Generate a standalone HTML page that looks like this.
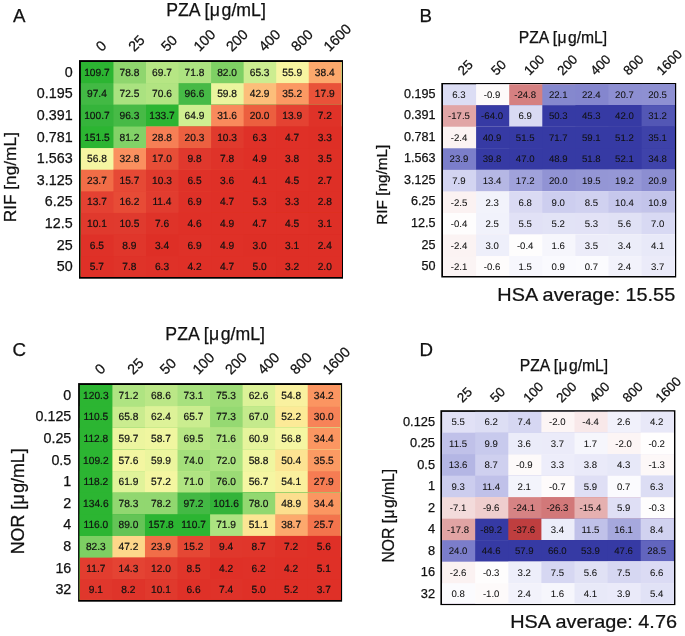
<!DOCTYPE html>
<html lang="en"><head><meta charset="utf-8"><title>Figure</title>
<style>html,body{margin:0;padding:0;background:#fff}body{width:685px;height:636px;overflow:hidden}svg{display:block}svg{stroke-width:.25px}svg text{stroke:#111}</style>
</head><body>
<svg width="685" height="636" viewBox="0 0 685 636" font-family='"Liberation Sans", sans-serif' fill="#111">
<rect width="685" height="636" fill="#fff"/>
<g>
<g>
<rect x="79" y="60.1" width="264" height="218.6" fill="#000"/>
<rect x="80.9" y="62" width="260.4" height="214.7" fill="#2cb532"/>
<rect x="113.45" y="62" width="227.85" height="214.7" fill="#8fd66e"/>
<rect x="146" y="62" width="195.3" height="214.7" fill="#b6e684"/>
<rect x="178.55" y="62" width="162.75" height="214.7" fill="#ade381"/>
<rect x="211.1" y="62" width="130.2" height="214.7" fill="#7ed064"/>
<rect x="243.65" y="62" width="97.65" height="214.7" fill="#cced90"/>
<rect x="276.2" y="62" width="65.1" height="214.7" fill="#f7f4a1"/>
<rect x="308.75" y="62" width="32.55" height="214.7" fill="#fca86c"/>
<rect x="80.9" y="83.14" width="260.4" height="193.56" fill="#42b944"/>
<rect x="113.45" y="83.14" width="227.85" height="193.56" fill="#aae280"/>
<rect x="146" y="83.14" width="195.3" height="193.56" fill="#b2e482"/>
<rect x="178.55" y="83.14" width="162.75" height="193.56" fill="#46ba46"/>
<rect x="211.1" y="83.14" width="130.2" height="193.56" fill="#ebf59e"/>
<rect x="243.65" y="83.14" width="97.65" height="193.56" fill="#fcbe7a"/>
<rect x="276.2" y="83.14" width="65.1" height="193.56" fill="#fb9963"/>
<rect x="308.75" y="83.14" width="32.55" height="193.56" fill="#e95239"/>
<rect x="80.9" y="104.78" width="260.4" height="171.92" fill="#35b43b"/>
<rect x="113.45" y="104.78" width="227.85" height="171.92" fill="#47ba46"/>
<rect x="146" y="104.78" width="195.3" height="171.92" fill="#2cb532"/>
<rect x="178.55" y="104.78" width="162.75" height="171.92" fill="#cfee91"/>
<rect x="211.1" y="104.78" width="130.2" height="171.92" fill="#f98a5c"/>
<rect x="243.65" y="104.78" width="97.65" height="171.92" fill="#ec5f3f"/>
<rect x="276.2" y="104.78" width="65.1" height="171.92" fill="#e44232"/>
<rect x="308.75" y="104.78" width="32.55" height="171.92" fill="#df3228"/>
<rect x="80.9" y="126.42" width="260.4" height="150.28" fill="#2cb532"/>
<rect x="113.45" y="126.42" width="227.85" height="150.28" fill="#82d267"/>
<rect x="146" y="126.42" width="195.3" height="150.28" fill="#f67f55"/>
<rect x="178.55" y="126.42" width="162.75" height="150.28" fill="#ec6040"/>
<rect x="211.1" y="126.42" width="130.2" height="150.28" fill="#e03a2d"/>
<rect x="243.65" y="126.42" width="97.65" height="150.28" fill="#df3128"/>
<rect x="276.2" y="126.42" width="65.1" height="150.28" fill="#df3027"/>
<rect x="308.75" y="126.42" width="32.55" height="150.28" fill="#de2f26"/>
<rect x="80.9" y="148.06" width="260.4" height="128.64" fill="#f5f6a2"/>
<rect x="113.45" y="148.06" width="227.85" height="128.64" fill="#fa905f"/>
<rect x="146" y="148.06" width="195.3" height="128.64" fill="#e74e37"/>
<rect x="178.55" y="148.06" width="162.75" height="128.64" fill="#e0382d"/>
<rect x="211.1" y="148.06" width="130.2" height="128.64" fill="#df3329"/>
<rect x="243.65" y="148.06" width="97.65" height="128.64" fill="#df3027"/>
<rect x="276.2" y="148.06" width="65.1" height="128.64" fill="#df3027"/>
<rect x="308.75" y="148.06" width="32.55" height="128.64" fill="#de3026"/>
<rect x="80.9" y="169.7" width="260.4" height="107" fill="#f16d47"/>
<rect x="113.45" y="169.7" width="227.85" height="107" fill="#e64935"/>
<rect x="146" y="169.7" width="195.3" height="107" fill="#e03a2d"/>
<rect x="178.55" y="169.7" width="162.75" height="107" fill="#df3128"/>
<rect x="211.1" y="169.7" width="130.2" height="107" fill="#df3027"/>
<rect x="243.65" y="169.7" width="97.65" height="107" fill="#df3027"/>
<rect x="276.2" y="169.7" width="65.1" height="107" fill="#df3027"/>
<rect x="308.75" y="169.7" width="32.55" height="107" fill="#de2f26"/>
<rect x="80.9" y="191.34" width="260.4" height="85.36" fill="#e44132"/>
<rect x="113.45" y="191.34" width="227.85" height="85.36" fill="#e74b36"/>
<rect x="146" y="191.34" width="195.3" height="85.36" fill="#e13c2f"/>
<rect x="178.55" y="191.34" width="162.75" height="85.36" fill="#df3128"/>
<rect x="211.1" y="191.34" width="130.2" height="85.36" fill="#df3027"/>
<rect x="243.65" y="191.34" width="97.65" height="85.36" fill="#df3027"/>
<rect x="276.2" y="191.34" width="65.1" height="85.36" fill="#de2f26"/>
<rect x="308.75" y="191.34" width="32.55" height="85.36" fill="#de2f26"/>
<rect x="80.9" y="212.98" width="260.4" height="63.72" fill="#e0392d"/>
<rect x="113.45" y="212.98" width="227.85" height="63.72" fill="#e03a2e"/>
<rect x="146" y="212.98" width="195.3" height="63.72" fill="#df3329"/>
<rect x="178.55" y="212.98" width="162.75" height="63.72" fill="#df3027"/>
<rect x="211.1" y="212.98" width="130.2" height="63.72" fill="#df3027"/>
<rect x="243.65" y="212.98" width="97.65" height="63.72" fill="#df3027"/>
<rect x="276.2" y="212.98" width="65.1" height="63.72" fill="#df3027"/>
<rect x="308.75" y="212.98" width="32.55" height="63.72" fill="#de2f26"/>
<rect x="80.9" y="234.62" width="260.4" height="42.08" fill="#df3128"/>
<rect x="113.45" y="234.62" width="227.85" height="42.08" fill="#e0362b"/>
<rect x="146" y="234.62" width="195.3" height="42.08" fill="#de2f26"/>
<rect x="178.55" y="234.62" width="162.75" height="42.08" fill="#df3128"/>
<rect x="211.1" y="234.62" width="130.2" height="42.08" fill="#df3027"/>
<rect x="243.65" y="234.62" width="97.65" height="42.08" fill="#de2f26"/>
<rect x="276.2" y="234.62" width="65.1" height="42.08" fill="#de2f26"/>
<rect x="308.75" y="234.62" width="32.55" height="42.08" fill="#de2f26"/>
<rect x="80.9" y="256.26" width="260.4" height="20.44" fill="#df3027"/>
<rect x="113.45" y="256.26" width="227.85" height="20.44" fill="#df3329"/>
<rect x="146" y="256.26" width="195.3" height="20.44" fill="#df3128"/>
<rect x="178.55" y="256.26" width="162.75" height="20.44" fill="#df3027"/>
<rect x="211.1" y="256.26" width="130.2" height="20.44" fill="#df3027"/>
<rect x="243.65" y="256.26" width="97.65" height="20.44" fill="#df3027"/>
<rect x="276.2" y="256.26" width="65.1" height="20.44" fill="#de2f26"/>
<rect x="308.75" y="256.26" width="32.55" height="20.44" fill="#de2f26"/>
</g>
<g font-size="10.4" text-anchor="middle" style="stroke-width:0.2px;text-rendering:geometricPrecision">
<text transform="translate(96.88 75.64) scale(0.98 1)">109.7</text>
<text transform="translate(129.42 75.64) scale(0.98 1)">78.8</text>
<text transform="translate(161.97 75.64) scale(0.98 1)">69.7</text>
<text transform="translate(194.52 75.64) scale(0.98 1)">71.8</text>
<text transform="translate(227.07 75.64) scale(0.98 1)">82.0</text>
<text transform="translate(259.62 75.64) scale(0.98 1)">65.3</text>
<text transform="translate(292.18 75.64) scale(0.98 1)">55.9</text>
<text transform="translate(324.72 75.64) scale(0.98 1)">38.4</text>
<text transform="translate(96.88 97.28) scale(0.98 1)">97.4</text>
<text transform="translate(129.42 97.28) scale(0.98 1)">72.5</text>
<text transform="translate(161.97 97.28) scale(0.98 1)">70.6</text>
<text transform="translate(194.52 97.28) scale(0.98 1)">96.6</text>
<text transform="translate(227.07 97.28) scale(0.98 1)">59.8</text>
<text transform="translate(259.62 97.28) scale(0.98 1)">42.9</text>
<text transform="translate(292.18 97.28) scale(0.98 1)">35.2</text>
<text transform="translate(324.72 97.28) scale(0.98 1)">17.9</text>
<text transform="translate(96.88 118.92) scale(0.98 1)">100.7</text>
<text transform="translate(129.42 118.92) scale(0.98 1)">96.3</text>
<text transform="translate(161.97 118.92) scale(0.98 1)">133.7</text>
<text transform="translate(194.52 118.92) scale(0.98 1)">64.9</text>
<text transform="translate(227.07 118.92) scale(0.98 1)">31.6</text>
<text transform="translate(259.62 118.92) scale(0.98 1)">20.0</text>
<text transform="translate(292.18 118.92) scale(0.98 1)">13.9</text>
<text transform="translate(324.72 118.92) scale(0.98 1)">7.2</text>
<text transform="translate(96.88 140.56) scale(0.98 1)">151.5</text>
<text transform="translate(129.42 140.56) scale(0.98 1)">81.2</text>
<text transform="translate(161.97 140.56) scale(0.98 1)">28.8</text>
<text transform="translate(194.52 140.56) scale(0.98 1)">20.3</text>
<text transform="translate(227.07 140.56) scale(0.98 1)">10.3</text>
<text transform="translate(259.62 140.56) scale(0.98 1)">6.3</text>
<text transform="translate(292.18 140.56) scale(0.98 1)">4.7</text>
<text transform="translate(324.72 140.56) scale(0.98 1)">3.3</text>
<text transform="translate(96.88 162.2) scale(0.98 1)">56.8</text>
<text transform="translate(129.42 162.2) scale(0.98 1)">32.8</text>
<text transform="translate(161.97 162.2) scale(0.98 1)">17.0</text>
<text transform="translate(194.52 162.2) scale(0.98 1)">9.8</text>
<text transform="translate(227.07 162.2) scale(0.98 1)">7.8</text>
<text transform="translate(259.62 162.2) scale(0.98 1)">4.9</text>
<text transform="translate(292.18 162.2) scale(0.98 1)">3.8</text>
<text transform="translate(324.72 162.2) scale(0.98 1)">3.5</text>
<text transform="translate(96.88 183.84) scale(0.98 1)">23.7</text>
<text transform="translate(129.42 183.84) scale(0.98 1)">15.7</text>
<text transform="translate(161.97 183.84) scale(0.98 1)">10.3</text>
<text transform="translate(194.52 183.84) scale(0.98 1)">6.5</text>
<text transform="translate(227.07 183.84) scale(0.98 1)">3.6</text>
<text transform="translate(259.62 183.84) scale(0.98 1)">4.1</text>
<text transform="translate(292.18 183.84) scale(0.98 1)">4.5</text>
<text transform="translate(324.72 183.84) scale(0.98 1)">2.7</text>
<text transform="translate(96.88 205.48) scale(0.98 1)">13.7</text>
<text transform="translate(129.42 205.48) scale(0.98 1)">16.2</text>
<text transform="translate(161.97 205.48) scale(0.98 1)">11.4</text>
<text transform="translate(194.52 205.48) scale(0.98 1)">6.9</text>
<text transform="translate(227.07 205.48) scale(0.98 1)">4.7</text>
<text transform="translate(259.62 205.48) scale(0.98 1)">5.3</text>
<text transform="translate(292.18 205.48) scale(0.98 1)">3.3</text>
<text transform="translate(324.72 205.48) scale(0.98 1)">2.8</text>
<text transform="translate(96.88 227.12) scale(0.98 1)">10.1</text>
<text transform="translate(129.42 227.12) scale(0.98 1)">10.5</text>
<text transform="translate(161.97 227.12) scale(0.98 1)">7.6</text>
<text transform="translate(194.52 227.12) scale(0.98 1)">4.6</text>
<text transform="translate(227.07 227.12) scale(0.98 1)">4.9</text>
<text transform="translate(259.62 227.12) scale(0.98 1)">4.7</text>
<text transform="translate(292.18 227.12) scale(0.98 1)">4.5</text>
<text transform="translate(324.72 227.12) scale(0.98 1)">3.1</text>
<text transform="translate(96.88 248.76) scale(0.98 1)">6.5</text>
<text transform="translate(129.42 248.76) scale(0.98 1)">8.9</text>
<text transform="translate(161.97 248.76) scale(0.98 1)">3.4</text>
<text transform="translate(194.52 248.76) scale(0.98 1)">6.9</text>
<text transform="translate(227.07 248.76) scale(0.98 1)">4.9</text>
<text transform="translate(259.62 248.76) scale(0.98 1)">3.0</text>
<text transform="translate(292.18 248.76) scale(0.98 1)">3.1</text>
<text transform="translate(324.72 248.76) scale(0.98 1)">2.4</text>
<text transform="translate(96.88 270.4) scale(0.98 1)">5.7</text>
<text transform="translate(129.42 270.4) scale(0.98 1)">7.8</text>
<text transform="translate(161.97 270.4) scale(0.98 1)">6.3</text>
<text transform="translate(194.52 270.4) scale(0.98 1)">4.2</text>
<text transform="translate(227.07 270.4) scale(0.98 1)">4.7</text>
<text transform="translate(259.62 270.4) scale(0.98 1)">5.0</text>
<text transform="translate(292.18 270.4) scale(0.98 1)">3.2</text>
<text transform="translate(324.72 270.4) scale(0.98 1)">2.0</text>
</g>
<g font-size="14.3" text-anchor="end">
<text x="72.6" y="76.64">0</text>
<text x="72.6" y="98.28">0.195</text>
<text x="72.6" y="119.92">0.391</text>
<text x="72.6" y="141.56">0.781</text>
<text x="72.6" y="163.2">1.563</text>
<text x="72.6" y="184.84">3.125</text>
<text x="72.6" y="206.48">6.25</text>
<text x="72.6" y="228.12">12.5</text>
<text x="72.6" y="249.76">25</text>
<text x="72.6" y="271.4">50</text>
</g>
<g font-size="14.3">
<text transform="translate(101.78 52.3) rotate(-45)" text-anchor="start" x="0" y="0">0</text>
<text transform="translate(134.32 52.3) rotate(-45)" text-anchor="start" x="0" y="0">25</text>
<text transform="translate(166.88 52.3) rotate(-45)" text-anchor="start" x="0" y="0">50</text>
<text transform="translate(199.42 52.3) rotate(-45)" text-anchor="start" x="0" y="0">100</text>
<text transform="translate(231.97 52.3) rotate(-45)" text-anchor="start" x="0" y="0">200</text>
<text transform="translate(264.52 52.3) rotate(-45)" text-anchor="start" x="0" y="0">400</text>
<text transform="translate(297.08 52.3) rotate(-45)" text-anchor="start" x="0" y="0">800</text>
<text transform="translate(329.62 52.3) rotate(-45)" text-anchor="start" x="0" y="0">1600</text>
</g>
<text x="216" y="16.2" font-size="17.7" text-anchor="middle">PZA [<tspan dx="0.35">μ</tspan><tspan dx="1.59">g</tspan>/mL]</text>
<text transform="translate(16.2 177.2) rotate(-90)" font-size="17.3" text-anchor="middle">RIF [ng/mL]</text>
<text x="12.9" y="21.9" font-size="18.7">A</text>
</g>
<g>
<g>
<rect x="441.3" y="83" width="234.9" height="194.5" fill="#000"/>
<rect x="443" y="84.3" width="231.7" height="191.5" fill="#dcddf4"/>
<rect x="476.1" y="84.3" width="198.6" height="191.5" fill="#fdfafa"/>
<rect x="509.2" y="84.3" width="165.5" height="191.5" fill="#d58081"/>
<rect x="542.3" y="84.3" width="132.4" height="191.5" fill="#8588ce"/>
<rect x="575.4" y="84.3" width="99.3" height="191.5" fill="#8486ce"/>
<rect x="608.5" y="84.3" width="66.2" height="191.5" fill="#8d8fd2"/>
<rect x="641.6" y="84.3" width="33.1" height="191.5" fill="#8e90d2"/>
<rect x="443" y="105.16" width="231.7" height="170.64" fill="#e1a5a6"/>
<rect x="476.1" y="105.16" width="198.6" height="170.64" fill="#363aa4"/>
<rect x="509.2" y="105.16" width="165.5" height="170.64" fill="#d9daf3"/>
<rect x="542.3" y="105.16" width="132.4" height="170.64" fill="#363aa4"/>
<rect x="575.4" y="105.16" width="99.3" height="170.64" fill="#363aa4"/>
<rect x="608.5" y="105.16" width="66.2" height="170.64" fill="#363aa4"/>
<rect x="641.6" y="105.16" width="33.1" height="170.64" fill="#5357b5"/>
<rect x="443" y="126.72" width="231.7" height="149.08" fill="#fbf3f3"/>
<rect x="476.1" y="126.72" width="198.6" height="149.08" fill="#363aa4"/>
<rect x="509.2" y="126.72" width="165.5" height="149.08" fill="#363aa4"/>
<rect x="542.3" y="126.72" width="132.4" height="149.08" fill="#363aa4"/>
<rect x="575.4" y="126.72" width="99.3" height="149.08" fill="#363aa4"/>
<rect x="608.5" y="126.72" width="66.2" height="149.08" fill="#363aa4"/>
<rect x="641.6" y="126.72" width="33.1" height="149.08" fill="#3e42a9"/>
<rect x="443" y="148.28" width="231.7" height="127.52" fill="#7b7eca"/>
<rect x="476.1" y="148.28" width="198.6" height="127.52" fill="#363aa4"/>
<rect x="509.2" y="148.28" width="165.5" height="127.52" fill="#363aa4"/>
<rect x="542.3" y="148.28" width="132.4" height="127.52" fill="#363aa4"/>
<rect x="575.4" y="148.28" width="99.3" height="127.52" fill="#363aa4"/>
<rect x="608.5" y="148.28" width="66.2" height="127.52" fill="#363aa4"/>
<rect x="641.6" y="148.28" width="33.1" height="127.52" fill="#3f43aa"/>
<rect x="443" y="169.84" width="231.7" height="105.96" fill="#d3d4f1"/>
<rect x="476.1" y="169.84" width="198.6" height="105.96" fill="#b5b7e4"/>
<rect x="509.2" y="169.84" width="165.5" height="105.96" fill="#a0a2db"/>
<rect x="542.3" y="169.84" width="132.4" height="105.96" fill="#9193d4"/>
<rect x="575.4" y="169.84" width="99.3" height="105.96" fill="#9496d5"/>
<rect x="608.5" y="169.84" width="66.2" height="105.96" fill="#9597d6"/>
<rect x="641.6" y="169.84" width="33.1" height="105.96" fill="#8c8ed1"/>
<rect x="443" y="191.4" width="231.7" height="84.4" fill="#fbf2f2"/>
<rect x="476.1" y="191.4" width="198.6" height="84.4" fill="#f2f3fb"/>
<rect x="509.2" y="191.4" width="165.5" height="84.4" fill="#dadaf3"/>
<rect x="542.3" y="191.4" width="132.4" height="84.4" fill="#cdceef"/>
<rect x="575.4" y="191.4" width="99.3" height="84.4" fill="#d0d1f0"/>
<rect x="608.5" y="191.4" width="66.2" height="84.4" fill="#c6c7ec"/>
<rect x="641.6" y="191.4" width="33.1" height="84.4" fill="#c3c4ea"/>
<rect x="443" y="212.96" width="231.7" height="62.84" fill="#fefdfd"/>
<rect x="476.1" y="212.96" width="198.6" height="62.84" fill="#f1f2fb"/>
<rect x="509.2" y="212.96" width="165.5" height="62.84" fill="#e1e1f6"/>
<rect x="542.3" y="212.96" width="132.4" height="62.84" fill="#e2e3f6"/>
<rect x="575.4" y="212.96" width="99.3" height="62.84" fill="#e2e2f6"/>
<rect x="608.5" y="212.96" width="66.2" height="62.84" fill="#e0e1f5"/>
<rect x="641.6" y="212.96" width="33.1" height="62.84" fill="#d8d9f3"/>
<rect x="443" y="234.52" width="231.7" height="41.28" fill="#fbf3f3"/>
<rect x="476.1" y="234.52" width="198.6" height="41.28" fill="#eeeffa"/>
<rect x="509.2" y="234.52" width="165.5" height="41.28" fill="#fefdfd"/>
<rect x="542.3" y="234.52" width="132.4" height="41.28" fill="#f6f6fc"/>
<rect x="575.4" y="234.52" width="99.3" height="41.28" fill="#ececf9"/>
<rect x="608.5" y="234.52" width="66.2" height="41.28" fill="#ecedf9"/>
<rect x="641.6" y="234.52" width="33.1" height="41.28" fill="#e8e9f8"/>
<rect x="443" y="256.08" width="231.7" height="19.72" fill="#fbf4f4"/>
<rect x="476.1" y="256.08" width="198.6" height="19.72" fill="#fefcfc"/>
<rect x="509.2" y="256.08" width="165.5" height="19.72" fill="#f7f7fd"/>
<rect x="542.3" y="256.08" width="132.4" height="19.72" fill="#fafafe"/>
<rect x="575.4" y="256.08" width="99.3" height="19.72" fill="#fbfbfe"/>
<rect x="608.5" y="256.08" width="66.2" height="19.72" fill="#f2f2fb"/>
<rect x="641.6" y="256.08" width="33.1" height="19.72" fill="#ebebf9"/>
</g>
<g font-size="9.6" text-anchor="middle" style="stroke-width:0.05px;text-rendering:geometricPrecision">
<text transform="translate(458.95 97.72) scale(1.0 1)">6.3</text>
<text transform="translate(492.05 97.72) scale(1.0 1)">-0.9</text>
<text transform="translate(525.15 97.72) scale(1.0 1)">-24.8</text>
<text transform="translate(558.25 97.72) scale(1.0 1)">22.1</text>
<text transform="translate(591.35 97.72) scale(1.0 1)">22.4</text>
<text transform="translate(624.45 97.72) scale(1.0 1)">20.7</text>
<text transform="translate(657.55 97.72) scale(1.0 1)">20.5</text>
<text transform="translate(458.95 119.28) scale(1.0 1)">-17.5</text>
<text transform="translate(492.05 119.28) scale(1.0 1)">-64.0</text>
<text transform="translate(525.15 119.28) scale(1.0 1)">6.9</text>
<text transform="translate(558.25 119.28) scale(1.0 1)">50.3</text>
<text transform="translate(591.35 119.28) scale(1.0 1)">45.3</text>
<text transform="translate(624.45 119.28) scale(1.0 1)">42.0</text>
<text transform="translate(657.55 119.28) scale(1.0 1)">31.2</text>
<text transform="translate(458.95 140.84) scale(1.0 1)">-2.4</text>
<text transform="translate(492.05 140.84) scale(1.0 1)">40.9</text>
<text transform="translate(525.15 140.84) scale(1.0 1)">51.5</text>
<text transform="translate(558.25 140.84) scale(1.0 1)">71.7</text>
<text transform="translate(591.35 140.84) scale(1.0 1)">59.1</text>
<text transform="translate(624.45 140.84) scale(1.0 1)">51.2</text>
<text transform="translate(657.55 140.84) scale(1.0 1)">35.1</text>
<text transform="translate(458.95 162.4) scale(1.0 1)">23.9</text>
<text transform="translate(492.05 162.4) scale(1.0 1)">39.8</text>
<text transform="translate(525.15 162.4) scale(1.0 1)">47.0</text>
<text transform="translate(558.25 162.4) scale(1.0 1)">48.9</text>
<text transform="translate(591.35 162.4) scale(1.0 1)">51.8</text>
<text transform="translate(624.45 162.4) scale(1.0 1)">52.1</text>
<text transform="translate(657.55 162.4) scale(1.0 1)">34.8</text>
<text transform="translate(458.95 183.96) scale(1.0 1)">7.9</text>
<text transform="translate(492.05 183.96) scale(1.0 1)">13.4</text>
<text transform="translate(525.15 183.96) scale(1.0 1)">17.2</text>
<text transform="translate(558.25 183.96) scale(1.0 1)">20.0</text>
<text transform="translate(591.35 183.96) scale(1.0 1)">19.5</text>
<text transform="translate(624.45 183.96) scale(1.0 1)">19.2</text>
<text transform="translate(657.55 183.96) scale(1.0 1)">20.9</text>
<text transform="translate(458.95 205.52) scale(1.0 1)">-2.5</text>
<text transform="translate(492.05 205.52) scale(1.0 1)">2.3</text>
<text transform="translate(525.15 205.52) scale(1.0 1)">6.8</text>
<text transform="translate(558.25 205.52) scale(1.0 1)">9.0</text>
<text transform="translate(591.35 205.52) scale(1.0 1)">8.5</text>
<text transform="translate(624.45 205.52) scale(1.0 1)">10.4</text>
<text transform="translate(657.55 205.52) scale(1.0 1)">10.9</text>
<text transform="translate(458.95 227.08) scale(1.0 1)">-0.4</text>
<text transform="translate(492.05 227.08) scale(1.0 1)">2.5</text>
<text transform="translate(525.15 227.08) scale(1.0 1)">5.5</text>
<text transform="translate(558.25 227.08) scale(1.0 1)">5.2</text>
<text transform="translate(591.35 227.08) scale(1.0 1)">5.3</text>
<text transform="translate(624.45 227.08) scale(1.0 1)">5.6</text>
<text transform="translate(657.55 227.08) scale(1.0 1)">7.0</text>
<text transform="translate(458.95 248.64) scale(1.0 1)">-2.4</text>
<text transform="translate(492.05 248.64) scale(1.0 1)">3.0</text>
<text transform="translate(525.15 248.64) scale(1.0 1)">-0.4</text>
<text transform="translate(558.25 248.64) scale(1.0 1)">1.6</text>
<text transform="translate(591.35 248.64) scale(1.0 1)">3.5</text>
<text transform="translate(624.45 248.64) scale(1.0 1)">3.4</text>
<text transform="translate(657.55 248.64) scale(1.0 1)">4.1</text>
<text transform="translate(458.95 270.2) scale(1.0 1)">-2.1</text>
<text transform="translate(492.05 270.2) scale(1.0 1)">-0.6</text>
<text transform="translate(525.15 270.2) scale(1.0 1)">1.5</text>
<text transform="translate(558.25 270.2) scale(1.0 1)">0.9</text>
<text transform="translate(591.35 270.2) scale(1.0 1)">0.7</text>
<text transform="translate(624.45 270.2) scale(1.0 1)">2.4</text>
<text transform="translate(657.55 270.2) scale(1.0 1)">3.7</text>
</g>
<g font-size="12.6" text-anchor="end">
<text x="435.4" y="97.59">0.195</text>
<text x="435.4" y="119.15">0.391</text>
<text x="435.4" y="140.71">0.781</text>
<text x="435.4" y="162.27">1.563</text>
<text x="435.4" y="183.83">3.125</text>
<text x="435.4" y="205.39">6.25</text>
<text x="435.4" y="226.95">12.5</text>
<text x="435.4" y="248.51">25</text>
<text x="435.4" y="270.07">50</text>
</g>
<g font-size="13.3">
<text transform="translate(463.35 76) rotate(-45)" text-anchor="start" x="0" y="0">25</text>
<text transform="translate(496.45 76) rotate(-45)" text-anchor="start" x="0" y="0">50</text>
<text transform="translate(529.55 76) rotate(-45)" text-anchor="start" x="0" y="0">100</text>
<text transform="translate(562.65 76) rotate(-45)" text-anchor="start" x="0" y="0">200</text>
<text transform="translate(595.75 76) rotate(-45)" text-anchor="start" x="0" y="0">400</text>
<text transform="translate(628.85 76) rotate(-45)" text-anchor="start" x="0" y="0">800</text>
<text transform="translate(661.95 76) rotate(-45)" text-anchor="start" x="0" y="0">1600</text>
</g>
<text x="563" y="42.5" font-size="15.7" text-anchor="middle">PZA [<tspan dx="0.31">μ</tspan><tspan dx="1.41">g</tspan>/mL]</text>
<text transform="translate(386.7 184.75) rotate(-90)" font-size="15.3" text-anchor="middle">RIF [ng/mL]</text>
<text x="419.5" y="22" font-size="18.7">B</text>
<text transform="translate(675.2 301.3) scale(1.055 1)" font-size="18.85" text-anchor="end">HSA average: 15.55</text>
</g>
<g>
<g>
<rect x="78.1" y="383.1" width="264" height="218.6" fill="#000"/>
<rect x="79.85" y="385" width="260.45" height="214.8" fill="#2cb532"/>
<rect x="112.41" y="385" width="227.89" height="214.8" fill="#afe482"/>
<rect x="144.96" y="385" width="195.34" height="214.8" fill="#bbe787"/>
<rect x="177.52" y="385" width="162.78" height="214.8" fill="#a7e17e"/>
<rect x="210.08" y="385" width="130.22" height="214.8" fill="#9edc77"/>
<rect x="242.63" y="385" width="97.67" height="214.8" fill="#dcf298"/>
<rect x="275.19" y="385" width="65.11" height="214.8" fill="#f9f19f"/>
<rect x="307.74" y="385" width="32.56" height="214.8" fill="#fb9561"/>
<rect x="79.85" y="406.14" width="260.45" height="193.66" fill="#2cb532"/>
<rect x="112.41" y="406.14" width="227.89" height="193.66" fill="#caec8f"/>
<rect x="144.96" y="406.14" width="195.34" height="193.66" fill="#ddf298"/>
<rect x="177.52" y="406.14" width="162.78" height="193.66" fill="#caed8f"/>
<rect x="210.08" y="406.14" width="130.22" height="193.66" fill="#95d972"/>
<rect x="242.63" y="406.14" width="97.67" height="193.66" fill="#c4ea8c"/>
<rect x="275.19" y="406.14" width="65.11" height="193.66" fill="#fcea97"/>
<rect x="307.74" y="406.14" width="32.56" height="193.66" fill="#f78358"/>
<rect x="79.85" y="427.78" width="260.45" height="172.02" fill="#2cb532"/>
<rect x="112.41" y="427.78" width="227.89" height="172.02" fill="#ecf59f"/>
<rect x="144.96" y="427.78" width="195.34" height="172.02" fill="#f0f6a0"/>
<rect x="177.52" y="427.78" width="162.78" height="172.02" fill="#b7e684"/>
<rect x="210.08" y="427.78" width="130.22" height="172.02" fill="#aee381"/>
<rect x="242.63" y="427.78" width="97.67" height="172.02" fill="#e6f49c"/>
<rect x="275.19" y="427.78" width="65.11" height="172.02" fill="#f5f6a2"/>
<rect x="307.74" y="427.78" width="32.56" height="172.02" fill="#fb9661"/>
<rect x="79.85" y="449.42" width="260.45" height="150.38" fill="#2cb532"/>
<rect x="112.41" y="449.42" width="227.89" height="150.38" fill="#f3f6a1"/>
<rect x="144.96" y="449.42" width="195.34" height="150.38" fill="#ebf59e"/>
<rect x="177.52" y="449.42" width="162.78" height="150.38" fill="#a4df7b"/>
<rect x="210.08" y="449.42" width="130.22" height="150.38" fill="#ace381"/>
<rect x="242.63" y="449.42" width="97.67" height="150.38" fill="#f0f6a0"/>
<rect x="275.19" y="449.42" width="65.11" height="150.38" fill="#fce392"/>
<rect x="307.74" y="449.42" width="32.56" height="150.38" fill="#fb9a63"/>
<rect x="79.85" y="471.06" width="260.45" height="128.74" fill="#2cb532"/>
<rect x="112.41" y="471.06" width="227.89" height="128.74" fill="#e0f39a"/>
<rect x="144.96" y="471.06" width="195.34" height="128.74" fill="#f4f6a1"/>
<rect x="177.52" y="471.06" width="162.78" height="128.74" fill="#b0e482"/>
<rect x="210.08" y="471.06" width="130.22" height="128.74" fill="#9bdb75"/>
<rect x="242.63" y="471.06" width="97.67" height="128.74" fill="#f5f6a2"/>
<rect x="275.19" y="471.06" width="65.11" height="128.74" fill="#faef9d"/>
<rect x="307.74" y="471.06" width="32.56" height="128.74" fill="#f67c53"/>
<rect x="79.85" y="492.7" width="260.45" height="107.1" fill="#2cb532"/>
<rect x="112.41" y="492.7" width="227.89" height="107.1" fill="#91d770"/>
<rect x="144.96" y="492.7" width="195.34" height="107.1" fill="#91d770"/>
<rect x="177.52" y="492.7" width="162.78" height="107.1" fill="#43b944"/>
<rect x="210.08" y="492.7" width="130.22" height="107.1" fill="#33b439"/>
<rect x="242.63" y="492.7" width="97.67" height="107.1" fill="#92d870"/>
<rect x="275.19" y="492.7" width="65.11" height="107.1" fill="#fcde8e"/>
<rect x="307.74" y="492.7" width="32.56" height="107.1" fill="#fb9661"/>
<rect x="79.85" y="514.34" width="260.45" height="85.46" fill="#2cb532"/>
<rect x="112.41" y="514.34" width="227.89" height="85.46" fill="#64c456"/>
<rect x="144.96" y="514.34" width="195.34" height="85.46" fill="#2cb532"/>
<rect x="177.52" y="514.34" width="162.78" height="85.46" fill="#2cb532"/>
<rect x="210.08" y="514.34" width="130.22" height="85.46" fill="#ace381"/>
<rect x="242.63" y="514.34" width="97.67" height="85.46" fill="#fce694"/>
<rect x="275.19" y="514.34" width="65.11" height="85.46" fill="#fca96d"/>
<rect x="307.74" y="514.34" width="32.56" height="85.46" fill="#f3744d"/>
<rect x="79.85" y="535.98" width="260.45" height="63.82" fill="#7dcf63"/>
<rect x="112.41" y="535.98" width="227.89" height="63.82" fill="#fdd78a"/>
<rect x="144.96" y="535.98" width="195.34" height="63.82" fill="#f16e48"/>
<rect x="177.52" y="535.98" width="162.78" height="63.82" fill="#e54734"/>
<rect x="210.08" y="535.98" width="130.22" height="63.82" fill="#e0372c"/>
<rect x="242.63" y="535.98" width="97.67" height="63.82" fill="#e0362b"/>
<rect x="275.19" y="535.98" width="65.11" height="63.82" fill="#df3228"/>
<rect x="307.74" y="535.98" width="32.56" height="63.82" fill="#df3027"/>
<rect x="79.85" y="557.62" width="260.45" height="42.18" fill="#e23d2f"/>
<rect x="112.41" y="557.62" width="227.89" height="42.18" fill="#e44333"/>
<rect x="144.96" y="557.62" width="195.34" height="42.18" fill="#e23e30"/>
<rect x="177.52" y="557.62" width="162.78" height="42.18" fill="#e0352a"/>
<rect x="210.08" y="557.62" width="130.22" height="42.18" fill="#df3027"/>
<rect x="242.63" y="557.62" width="97.67" height="42.18" fill="#df3128"/>
<rect x="275.19" y="557.62" width="65.11" height="42.18" fill="#df3027"/>
<rect x="307.74" y="557.62" width="32.56" height="42.18" fill="#df3027"/>
<rect x="79.85" y="579.26" width="260.45" height="20.54" fill="#e0372c"/>
<rect x="112.41" y="579.26" width="227.89" height="20.54" fill="#df342a"/>
<rect x="144.96" y="579.26" width="195.34" height="20.54" fill="#e0392d"/>
<rect x="177.52" y="579.26" width="162.78" height="20.54" fill="#df3128"/>
<rect x="210.08" y="579.26" width="130.22" height="20.54" fill="#df3229"/>
<rect x="242.63" y="579.26" width="97.67" height="20.54" fill="#df3027"/>
<rect x="275.19" y="579.26" width="65.11" height="20.54" fill="#df3027"/>
<rect x="307.74" y="579.26" width="32.56" height="20.54" fill="#df3027"/>
</g>
<g font-size="10.4" text-anchor="middle" style="stroke-width:0.2px;text-rendering:geometricPrecision">
<text transform="translate(95.83 398.64) scale(0.98 1)">120.3</text>
<text transform="translate(128.38 398.64) scale(0.98 1)">71.2</text>
<text transform="translate(160.94 398.64) scale(0.98 1)">68.6</text>
<text transform="translate(193.5 398.64) scale(0.98 1)">73.1</text>
<text transform="translate(226.05 398.64) scale(0.98 1)">75.3</text>
<text transform="translate(258.61 398.64) scale(0.98 1)">62.6</text>
<text transform="translate(291.17 398.64) scale(0.98 1)">54.8</text>
<text transform="translate(323.72 398.64) scale(0.98 1)">34.2</text>
<text transform="translate(95.83 420.28) scale(0.98 1)">110.5</text>
<text transform="translate(128.38 420.28) scale(0.98 1)">65.8</text>
<text transform="translate(160.94 420.28) scale(0.98 1)">62.4</text>
<text transform="translate(193.5 420.28) scale(0.98 1)">65.7</text>
<text transform="translate(226.05 420.28) scale(0.98 1)">77.3</text>
<text transform="translate(258.61 420.28) scale(0.98 1)">67.0</text>
<text transform="translate(291.17 420.28) scale(0.98 1)">52.2</text>
<text transform="translate(323.72 420.28) scale(0.98 1)">30.0</text>
<text transform="translate(95.83 441.92) scale(0.98 1)">112.8</text>
<text transform="translate(128.38 441.92) scale(0.98 1)">59.7</text>
<text transform="translate(160.94 441.92) scale(0.98 1)">58.7</text>
<text transform="translate(193.5 441.92) scale(0.98 1)">69.5</text>
<text transform="translate(226.05 441.92) scale(0.98 1)">71.6</text>
<text transform="translate(258.61 441.92) scale(0.98 1)">60.9</text>
<text transform="translate(291.17 441.92) scale(0.98 1)">56.8</text>
<text transform="translate(323.72 441.92) scale(0.98 1)">34.4</text>
<text transform="translate(95.83 463.56) scale(0.98 1)">109.2</text>
<text transform="translate(128.38 463.56) scale(0.98 1)">57.6</text>
<text transform="translate(160.94 463.56) scale(0.98 1)">59.9</text>
<text transform="translate(193.5 463.56) scale(0.98 1)">74.0</text>
<text transform="translate(226.05 463.56) scale(0.98 1)">72.0</text>
<text transform="translate(258.61 463.56) scale(0.98 1)">58.8</text>
<text transform="translate(291.17 463.56) scale(0.98 1)">50.4</text>
<text transform="translate(323.72 463.56) scale(0.98 1)">35.5</text>
<text transform="translate(95.83 485.2) scale(0.98 1)">118.2</text>
<text transform="translate(128.38 485.2) scale(0.98 1)">61.9</text>
<text transform="translate(160.94 485.2) scale(0.98 1)">57.2</text>
<text transform="translate(193.5 485.2) scale(0.98 1)">71.0</text>
<text transform="translate(226.05 485.2) scale(0.98 1)">76.0</text>
<text transform="translate(258.61 485.2) scale(0.98 1)">56.7</text>
<text transform="translate(291.17 485.2) scale(0.98 1)">54.1</text>
<text transform="translate(323.72 485.2) scale(0.98 1)">27.9</text>
<text transform="translate(95.83 506.84) scale(0.98 1)">134.6</text>
<text transform="translate(128.38 506.84) scale(0.98 1)">78.3</text>
<text transform="translate(160.94 506.84) scale(0.98 1)">78.2</text>
<text transform="translate(193.5 506.84) scale(0.98 1)">97.2</text>
<text transform="translate(226.05 506.84) scale(0.98 1)">101.6</text>
<text transform="translate(258.61 506.84) scale(0.98 1)">78.0</text>
<text transform="translate(291.17 506.84) scale(0.98 1)">48.9</text>
<text transform="translate(323.72 506.84) scale(0.98 1)">34.4</text>
<text transform="translate(95.83 528.48) scale(0.98 1)">116.0</text>
<text transform="translate(128.38 528.48) scale(0.98 1)">89.0</text>
<text transform="translate(160.94 528.48) scale(0.98 1)">157.8</text>
<text transform="translate(193.5 528.48) scale(0.98 1)">110.7</text>
<text transform="translate(226.05 528.48) scale(0.98 1)">71.9</text>
<text transform="translate(258.61 528.48) scale(0.98 1)">51.1</text>
<text transform="translate(291.17 528.48) scale(0.98 1)">38.7</text>
<text transform="translate(323.72 528.48) scale(0.98 1)">25.7</text>
<text transform="translate(95.83 550.12) scale(0.98 1)">82.3</text>
<text transform="translate(128.38 550.12) scale(0.98 1)">47.2</text>
<text transform="translate(160.94 550.12) scale(0.98 1)">23.9</text>
<text transform="translate(193.5 550.12) scale(0.98 1)">15.2</text>
<text transform="translate(226.05 550.12) scale(0.98 1)">9.4</text>
<text transform="translate(258.61 550.12) scale(0.98 1)">8.7</text>
<text transform="translate(291.17 550.12) scale(0.98 1)">7.2</text>
<text transform="translate(323.72 550.12) scale(0.98 1)">5.6</text>
<text transform="translate(95.83 571.76) scale(0.98 1)">11.7</text>
<text transform="translate(128.38 571.76) scale(0.98 1)">14.3</text>
<text transform="translate(160.94 571.76) scale(0.98 1)">12.0</text>
<text transform="translate(193.5 571.76) scale(0.98 1)">8.5</text>
<text transform="translate(226.05 571.76) scale(0.98 1)">4.2</text>
<text transform="translate(258.61 571.76) scale(0.98 1)">6.2</text>
<text transform="translate(291.17 571.76) scale(0.98 1)">4.2</text>
<text transform="translate(323.72 571.76) scale(0.98 1)">5.1</text>
<text transform="translate(95.83 593.4) scale(0.98 1)">9.1</text>
<text transform="translate(128.38 593.4) scale(0.98 1)">8.2</text>
<text transform="translate(160.94 593.4) scale(0.98 1)">10.1</text>
<text transform="translate(193.5 593.4) scale(0.98 1)">6.6</text>
<text transform="translate(226.05 593.4) scale(0.98 1)">7.4</text>
<text transform="translate(258.61 593.4) scale(0.98 1)">5.0</text>
<text transform="translate(291.17 593.4) scale(0.98 1)">5.2</text>
<text transform="translate(323.72 593.4) scale(0.98 1)">3.7</text>
</g>
<g font-size="14.3" text-anchor="end">
<text x="71.3" y="399.64">0</text>
<text x="71.3" y="421.28">0.125</text>
<text x="71.3" y="442.92">0.25</text>
<text x="71.3" y="464.56">0.5</text>
<text x="71.3" y="486.2">1</text>
<text x="71.3" y="507.84">2</text>
<text x="71.3" y="529.48">4</text>
<text x="71.3" y="551.12">8</text>
<text x="71.3" y="572.76">16</text>
<text x="71.3" y="594.4">32</text>
</g>
<g font-size="14.3">
<text transform="translate(100.73 375.3) rotate(-45)" text-anchor="start" x="0" y="0">0</text>
<text transform="translate(133.28 375.3) rotate(-45)" text-anchor="start" x="0" y="0">25</text>
<text transform="translate(165.84 375.3) rotate(-45)" text-anchor="start" x="0" y="0">50</text>
<text transform="translate(198.4 375.3) rotate(-45)" text-anchor="start" x="0" y="0">100</text>
<text transform="translate(230.95 375.3) rotate(-45)" text-anchor="start" x="0" y="0">200</text>
<text transform="translate(263.51 375.3) rotate(-45)" text-anchor="start" x="0" y="0">400</text>
<text transform="translate(296.07 375.3) rotate(-45)" text-anchor="start" x="0" y="0">800</text>
<text transform="translate(328.62 375.3) rotate(-45)" text-anchor="start" x="0" y="0">1600</text>
</g>
<text x="215.2" y="339.6" font-size="17.7" text-anchor="middle">PZA [<tspan dx="0.35">μ</tspan><tspan dx="1.59">g</tspan>/mL]</text>
<text transform="translate(24.3 501.3) rotate(-90)" font-size="17.8" text-anchor="middle">NOR [<tspan dx="0.3">μ</tspan><tspan dx="1.5">g</tspan>/mL]</text>
<text x="12.6" y="356.2" font-size="18.7">C</text>
</g>
<g>
<g>
<rect x="440.4" y="410.2" width="235" height="194.9" fill="#000"/>
<rect x="442.1" y="411.9" width="231.7" height="191.6" fill="#e1e1f6"/>
<rect x="475.2" y="411.9" width="198.6" height="191.6" fill="#dddef4"/>
<rect x="508.3" y="411.9" width="165.5" height="191.6" fill="#d6d7f2"/>
<rect x="541.4" y="411.9" width="132.4" height="191.6" fill="#fcf5f5"/>
<rect x="574.5" y="411.9" width="99.3" height="191.6" fill="#f8e8e9"/>
<rect x="607.6" y="411.9" width="66.2" height="191.6" fill="#f1f1fb"/>
<rect x="640.7" y="411.9" width="33.1" height="191.6" fill="#e8e8f8"/>
<rect x="442.1" y="432.7" width="231.7" height="170.8" fill="#c0c1e9"/>
<rect x="475.2" y="432.7" width="198.6" height="170.8" fill="#c8caed"/>
<rect x="508.3" y="432.7" width="165.5" height="170.8" fill="#ebecf9"/>
<rect x="541.4" y="432.7" width="132.4" height="170.8" fill="#ebebf9"/>
<rect x="574.5" y="432.7" width="99.3" height="170.8" fill="#f6f6fc"/>
<rect x="607.6" y="432.7" width="66.2" height="170.8" fill="#fcf5f5"/>
<rect x="640.7" y="432.7" width="33.1" height="170.8" fill="#fffefe"/>
<rect x="442.1" y="454.2" width="231.7" height="149.3" fill="#b4b6e4"/>
<rect x="475.2" y="454.2" width="198.6" height="149.3" fill="#cfd0ef"/>
<rect x="508.3" y="454.2" width="165.5" height="149.3" fill="#fdfafa"/>
<rect x="541.4" y="454.2" width="132.4" height="149.3" fill="#ededfa"/>
<rect x="574.5" y="454.2" width="99.3" height="149.3" fill="#eaeaf9"/>
<rect x="607.6" y="454.2" width="66.2" height="149.3" fill="#e7e8f8"/>
<rect x="640.7" y="454.2" width="33.1" height="149.3" fill="#fdf8f8"/>
<rect x="442.1" y="475.7" width="231.7" height="127.8" fill="#cccdee"/>
<rect x="475.2" y="475.7" width="198.6" height="127.8" fill="#c0c1e9"/>
<rect x="508.3" y="475.7" width="165.5" height="127.8" fill="#f3f4fc"/>
<rect x="541.4" y="475.7" width="132.4" height="127.8" fill="#fefbfb"/>
<rect x="574.5" y="475.7" width="99.3" height="127.8" fill="#dfdff5"/>
<rect x="607.6" y="475.7" width="66.2" height="127.8" fill="#fbfbfe"/>
<rect x="640.7" y="475.7" width="33.1" height="127.8" fill="#dcddf4"/>
<rect x="442.1" y="497.2" width="231.7" height="106.3" fill="#f3dbdb"/>
<rect x="475.2" y="497.2" width="198.6" height="106.3" fill="#efcece"/>
<rect x="508.3" y="497.2" width="165.5" height="106.3" fill="#d68384"/>
<rect x="541.4" y="497.2" width="132.4" height="106.3" fill="#d27879"/>
<rect x="574.5" y="497.2" width="99.3" height="106.3" fill="#e5b0b0"/>
<rect x="607.6" y="497.2" width="66.2" height="106.3" fill="#dfdff5"/>
<rect x="640.7" y="497.2" width="33.1" height="106.3" fill="#fefdfd"/>
<rect x="442.1" y="518.7" width="231.7" height="84.8" fill="#e1a4a4"/>
<rect x="475.2" y="518.7" width="198.6" height="84.8" fill="#363aa4"/>
<rect x="508.3" y="518.7" width="165.5" height="84.8" fill="#bf3e3f"/>
<rect x="541.4" y="518.7" width="132.4" height="84.8" fill="#ecedf9"/>
<rect x="574.5" y="518.7" width="99.3" height="84.8" fill="#c0c1e9"/>
<rect x="607.6" y="518.7" width="66.2" height="84.8" fill="#a6a8dd"/>
<rect x="640.7" y="518.7" width="33.1" height="84.8" fill="#d1d2f0"/>
<rect x="442.1" y="540.2" width="231.7" height="63.3" fill="#7b7dca"/>
<rect x="475.2" y="540.2" width="198.6" height="63.3" fill="#363aa4"/>
<rect x="508.3" y="540.2" width="165.5" height="63.3" fill="#363aa4"/>
<rect x="541.4" y="540.2" width="132.4" height="63.3" fill="#363aa4"/>
<rect x="574.5" y="540.2" width="99.3" height="63.3" fill="#363aa4"/>
<rect x="607.6" y="540.2" width="66.2" height="63.3" fill="#363aa4"/>
<rect x="640.7" y="540.2" width="33.1" height="63.3" fill="#6265be"/>
<rect x="442.1" y="561.7" width="231.7" height="41.8" fill="#fbf2f2"/>
<rect x="475.2" y="561.7" width="198.6" height="41.8" fill="#fefdfd"/>
<rect x="508.3" y="561.7" width="165.5" height="41.8" fill="#edeefa"/>
<rect x="541.4" y="561.7" width="132.4" height="41.8" fill="#d6d7f2"/>
<rect x="574.5" y="561.7" width="99.3" height="41.8" fill="#e0e1f5"/>
<rect x="607.6" y="561.7" width="66.2" height="41.8" fill="#d6d7f2"/>
<rect x="640.7" y="561.7" width="33.1" height="41.8" fill="#dbdbf4"/>
<rect x="442.1" y="583.2" width="231.7" height="20.3" fill="#fbfbfe"/>
<rect x="475.2" y="583.2" width="198.6" height="20.3" fill="#fdfafa"/>
<rect x="508.3" y="583.2" width="165.5" height="20.3" fill="#f2f2fb"/>
<rect x="541.4" y="583.2" width="132.4" height="20.3" fill="#f6f6fc"/>
<rect x="574.5" y="583.2" width="99.3" height="20.3" fill="#e8e9f8"/>
<rect x="607.6" y="583.2" width="66.2" height="20.3" fill="#eaeaf9"/>
<rect x="640.7" y="583.2" width="33.1" height="20.3" fill="#e1e2f6"/>
</g>
<g font-size="9.6" text-anchor="middle" style="stroke-width:0.05px;text-rendering:geometricPrecision">
<text transform="translate(458.05 425.29) scale(1.0 1)">5.5</text>
<text transform="translate(491.15 425.29) scale(1.0 1)">6.2</text>
<text transform="translate(524.25 425.29) scale(1.0 1)">7.4</text>
<text transform="translate(557.35 425.29) scale(1.0 1)">-2.0</text>
<text transform="translate(590.45 425.29) scale(1.0 1)">-4.4</text>
<text transform="translate(623.55 425.29) scale(1.0 1)">2.6</text>
<text transform="translate(656.65 425.29) scale(1.0 1)">4.2</text>
<text transform="translate(458.05 446.79) scale(1.0 1)">11.5</text>
<text transform="translate(491.15 446.79) scale(1.0 1)">9.9</text>
<text transform="translate(524.25 446.79) scale(1.0 1)">3.6</text>
<text transform="translate(557.35 446.79) scale(1.0 1)">3.7</text>
<text transform="translate(590.45 446.79) scale(1.0 1)">1.7</text>
<text transform="translate(623.55 446.79) scale(1.0 1)">-2.0</text>
<text transform="translate(656.65 446.79) scale(1.0 1)">-0.2</text>
<text transform="translate(458.05 468.29) scale(1.0 1)">13.6</text>
<text transform="translate(491.15 468.29) scale(1.0 1)">8.7</text>
<text transform="translate(524.25 468.29) scale(1.0 1)">-0.9</text>
<text transform="translate(557.35 468.29) scale(1.0 1)">3.3</text>
<text transform="translate(590.45 468.29) scale(1.0 1)">3.8</text>
<text transform="translate(623.55 468.29) scale(1.0 1)">4.3</text>
<text transform="translate(656.65 468.29) scale(1.0 1)">-1.3</text>
<text transform="translate(458.05 489.79) scale(1.0 1)">9.3</text>
<text transform="translate(491.15 489.79) scale(1.0 1)">11.4</text>
<text transform="translate(524.25 489.79) scale(1.0 1)">2.1</text>
<text transform="translate(557.35 489.79) scale(1.0 1)">-0.7</text>
<text transform="translate(590.45 489.79) scale(1.0 1)">5.9</text>
<text transform="translate(623.55 489.79) scale(1.0 1)">0.7</text>
<text transform="translate(656.65 489.79) scale(1.0 1)">6.3</text>
<text transform="translate(458.05 511.29) scale(1.0 1)">-7.1</text>
<text transform="translate(491.15 511.29) scale(1.0 1)">-9.6</text>
<text transform="translate(524.25 511.29) scale(1.0 1)">-24.1</text>
<text transform="translate(557.35 511.29) scale(1.0 1)">-26.3</text>
<text transform="translate(590.45 511.29) scale(1.0 1)">-15.4</text>
<text transform="translate(623.55 511.29) scale(1.0 1)">5.9</text>
<text transform="translate(656.65 511.29) scale(1.0 1)">-0.3</text>
<text transform="translate(458.05 532.79) scale(1.0 1)">-17.8</text>
<text transform="translate(491.15 532.79) scale(1.0 1)">-89.2</text>
<text transform="translate(524.25 532.79) scale(1.0 1)">-37.6</text>
<text transform="translate(557.35 532.79) scale(1.0 1)">3.4</text>
<text transform="translate(590.45 532.79) scale(1.0 1)">11.5</text>
<text transform="translate(623.55 532.79) scale(1.0 1)">16.1</text>
<text transform="translate(656.65 532.79) scale(1.0 1)">8.4</text>
<text transform="translate(458.05 554.29) scale(1.0 1)">24.0</text>
<text transform="translate(491.15 554.29) scale(1.0 1)">44.6</text>
<text transform="translate(524.25 554.29) scale(1.0 1)">57.9</text>
<text transform="translate(557.35 554.29) scale(1.0 1)">66.0</text>
<text transform="translate(590.45 554.29) scale(1.0 1)">53.9</text>
<text transform="translate(623.55 554.29) scale(1.0 1)">47.6</text>
<text transform="translate(656.65 554.29) scale(1.0 1)">28.5</text>
<text transform="translate(458.05 575.79) scale(1.0 1)">-2.6</text>
<text transform="translate(491.15 575.79) scale(1.0 1)">-0.3</text>
<text transform="translate(524.25 575.79) scale(1.0 1)">3.2</text>
<text transform="translate(557.35 575.79) scale(1.0 1)">7.5</text>
<text transform="translate(590.45 575.79) scale(1.0 1)">5.6</text>
<text transform="translate(623.55 575.79) scale(1.0 1)">7.5</text>
<text transform="translate(656.65 575.79) scale(1.0 1)">6.6</text>
<text transform="translate(458.05 597.29) scale(1.0 1)">0.8</text>
<text transform="translate(491.15 597.29) scale(1.0 1)">-1.0</text>
<text transform="translate(524.25 597.29) scale(1.0 1)">2.4</text>
<text transform="translate(557.35 597.29) scale(1.0 1)">1.6</text>
<text transform="translate(590.45 597.29) scale(1.0 1)">4.1</text>
<text transform="translate(623.55 597.29) scale(1.0 1)">3.9</text>
<text transform="translate(656.65 597.29) scale(1.0 1)">5.4</text>
</g>
<g font-size="12.8" text-anchor="end">
<text x="435" y="425.53">0.125</text>
<text x="435" y="447.03">0.25</text>
<text x="435" y="468.53">0.5</text>
<text x="435" y="490.03">1</text>
<text x="435" y="511.53">2</text>
<text x="435" y="533.03">4</text>
<text x="435" y="554.53">8</text>
<text x="435" y="576.03">16</text>
<text x="435" y="597.53">32</text>
</g>
<g font-size="13.3">
<text transform="translate(462.45 403.2) rotate(-45)" text-anchor="start" x="0" y="0">25</text>
<text transform="translate(495.55 403.2) rotate(-45)" text-anchor="start" x="0" y="0">50</text>
<text transform="translate(528.65 403.2) rotate(-45)" text-anchor="start" x="0" y="0">100</text>
<text transform="translate(561.75 403.2) rotate(-45)" text-anchor="start" x="0" y="0">200</text>
<text transform="translate(594.85 403.2) rotate(-45)" text-anchor="start" x="0" y="0">400</text>
<text transform="translate(627.95 403.2) rotate(-45)" text-anchor="start" x="0" y="0">800</text>
<text transform="translate(661.05 403.2) rotate(-45)" text-anchor="start" x="0" y="0">1600</text>
</g>
<text x="564" y="371" font-size="15.7" text-anchor="middle">PZA [<tspan dx="0.31">μ</tspan><tspan dx="1.41">g</tspan>/mL]</text>
<text transform="translate(394.3 515.65) rotate(-90)" font-size="15.7" text-anchor="middle">NOR [<tspan dx="0.3">μ</tspan><tspan dx="1.5">g</tspan>/mL]</text>
<text x="419.4" y="355.7" font-size="18.7">D</text>
<text transform="translate(677 628.1) scale(1.055 1)" font-size="18.85" text-anchor="end">HSA average: 4.76</text>
</g>
</svg>
</body></html>
